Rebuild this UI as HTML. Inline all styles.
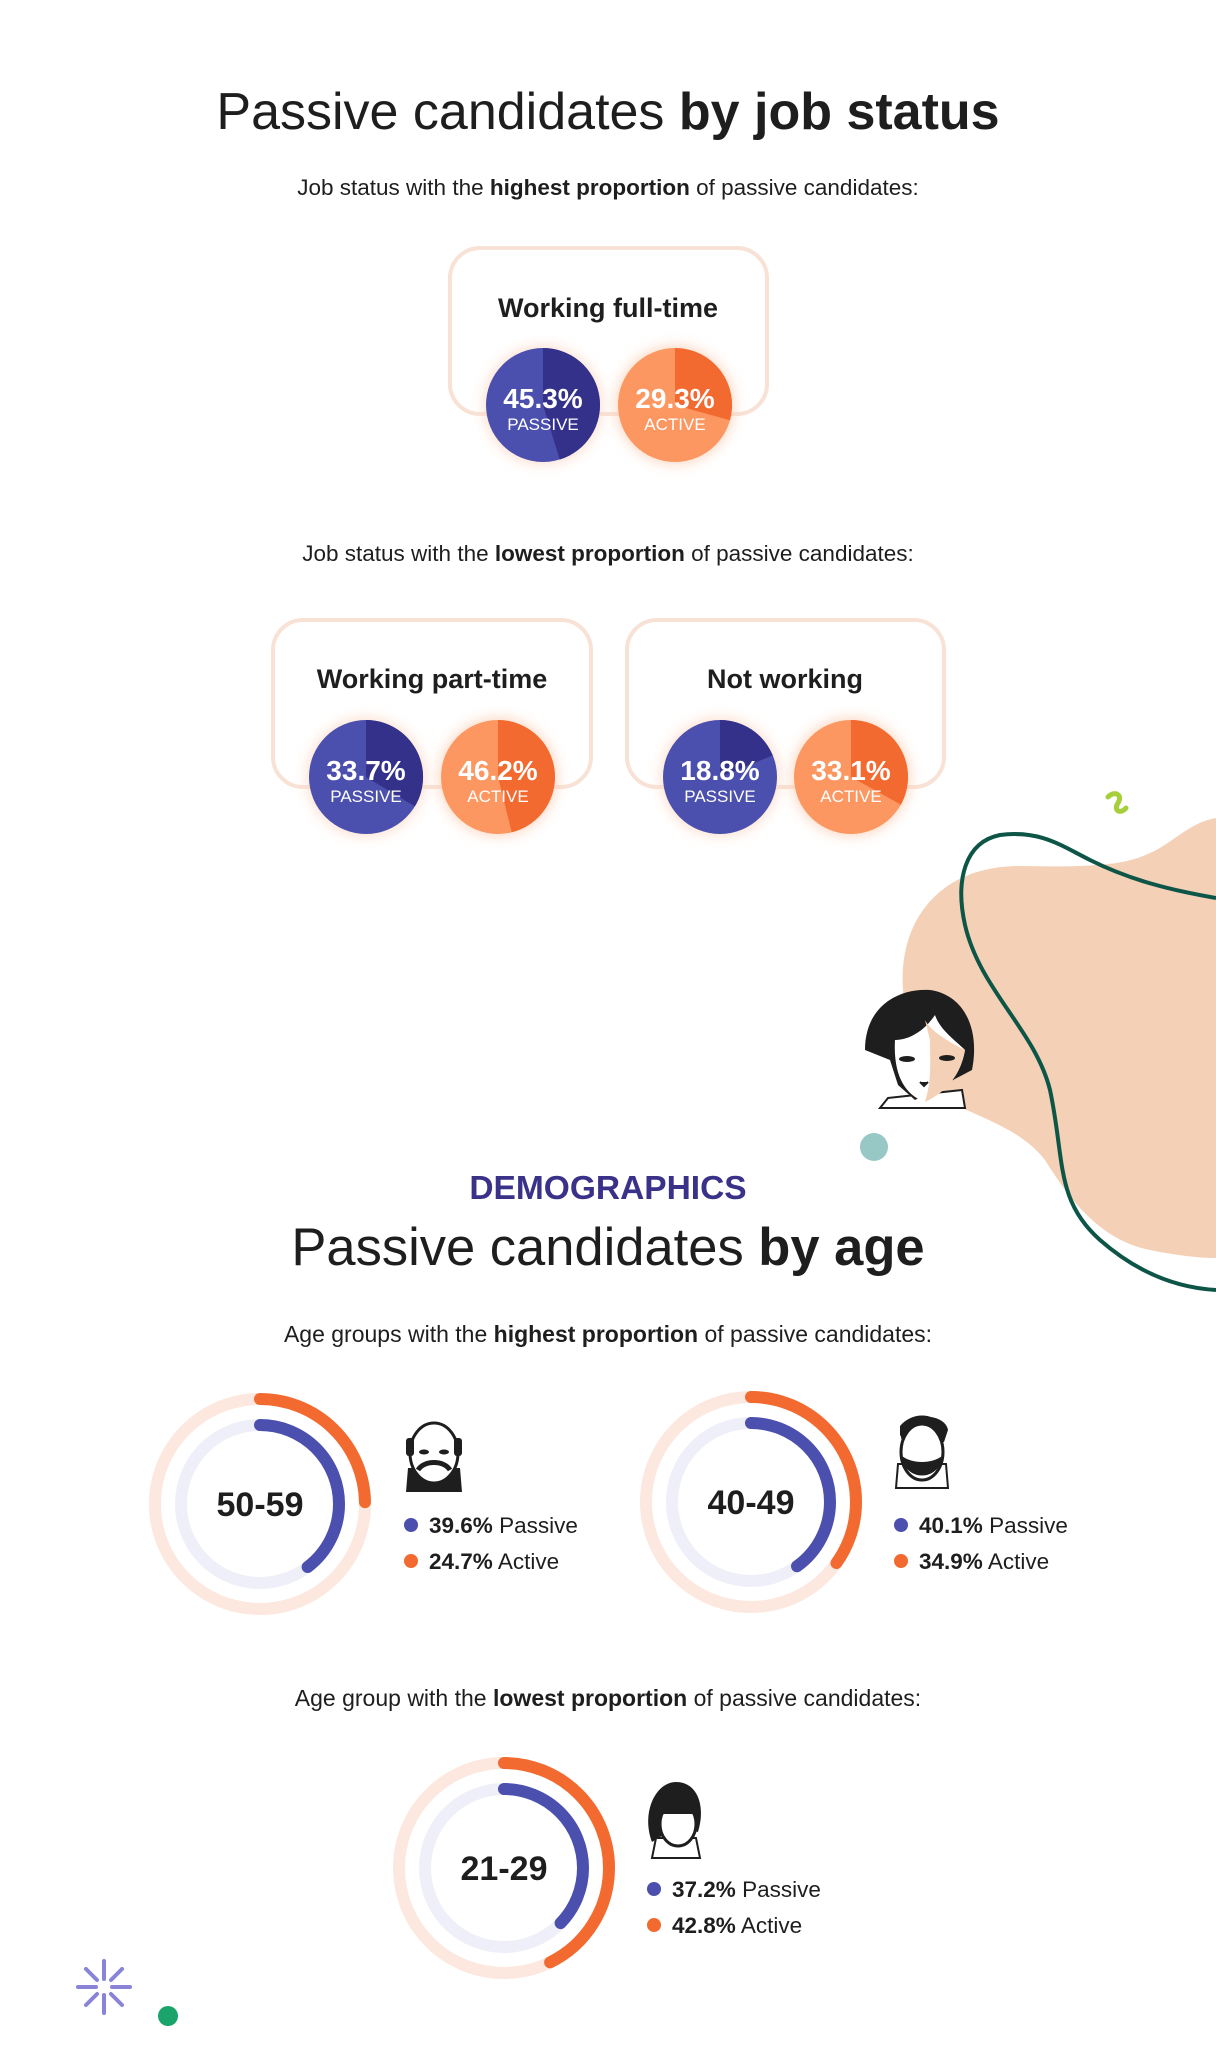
<!DOCTYPE html>
<html><head><meta charset="utf-8"><style>
html,body{margin:0;padding:0;background:#fff;}
svg{display:block;}
text{font-family:"Liberation Sans",sans-serif;}
</style></head><body>
<svg width="1216" height="2048" viewBox="0 0 1216 2048" xmlns="http://www.w3.org/2000/svg">
<defs>
<filter id="glow" x="-50%" y="-50%" width="200%" height="200%"><feGaussianBlur stdDeviation="7"/></filter>
</defs>
<rect width="1216" height="2048" fill="#fff"/>
<!-- blob -->
<path d="M1216,818 C1190,822 1170,845 1150,853 C1130,862 1110,868 1020,866 C940,866 898,920 903,990 C906,1060 930,1095 960,1107 C1000,1125 1025,1135 1045,1160 C1070,1200 1100,1240 1150,1250 C1180,1256 1200,1258 1216,1258 Z" fill="#f3d0b6"/>
<path d="M1216,898 C1170,890 1130,880 1090,860 C1060,845 1040,830 1000,835 C965,842 955,880 965,925 C980,990 1035,1030 1050,1090 C1065,1160 1055,1200 1100,1240 C1140,1275 1180,1288 1216,1290" fill="none" stroke="#0d5547" stroke-width="4"/>
<path d="M1108,797 C1115,790 1123,795 1118,803 C1113,810 1120,815 1126,808" fill="none" stroke="#a6cf3c" stroke-width="5" stroke-linecap="round"/>
<circle cx="874" cy="1147" r="14" fill="#97c8c6"/>
<!-- woman face -->
<g>
<path d="M888,1098 L880,1108 L965,1108 L962,1090 Z" fill="#fff" stroke="#1e1e1e" stroke-width="2"/>
<path d="M865,1050 C865,1005 900,988 930,990 C965,995 980,1030 972,1070 L915,1100 L898,1085 L890,1060 Z" fill="#1e1e1e"/>
<path d="M895,1040 C910,1040 925,1030 935,1015 C940,1030 955,1040 965,1050 C960,1080 940,1095 925,1102 C905,1095 893,1075 895,1040Z" fill="#fff"/>
<path d="M925,1020 C930,1030 945,1040 965,1050 C960,1080 940,1095 925,1102 C932,1080 930,1060 930,1040Z" fill="#f3d0b6"/>
<ellipse cx="907" cy="1059" rx="8" ry="3" fill="#1e1e1e"/><ellipse cx="947" cy="1058" rx="8" ry="3" fill="#1e1e1e"/>
<path d="M920,1082 l4,4 l4,-4" fill="#1e1e1e" stroke="#1e1e1e" stroke-width="2"/>
</g>
<!-- section 1 -->
<text x="608" y="129" text-anchor="middle" font-size="52" fill="#1e1e1e">Passive candidates <tspan font-weight="bold">by job status</tspan></text>
<text x="608" y="195" text-anchor="middle" font-size="22.5" fill="#1e1e1e">Job status with the <tspan font-weight="bold">highest proportion</tspan> of passive candidates:</text>
<rect x="450" y="248" width="317" height="166" rx="30" fill="none" stroke="#f8e2d5" stroke-width="4"/>
<text x="608" y="317" text-anchor="middle" font-size="27" font-weight="bold" fill="#1e1e1e">Working full-time</text>

<text x="608" y="561" text-anchor="middle" font-size="22.5" fill="#1e1e1e">Job status with the <tspan font-weight="bold">lowest proportion</tspan> of passive candidates:</text>
<rect x="273" y="620" width="318" height="167" rx="30" fill="none" stroke="#f8e2d5" stroke-width="4"/>
<rect x="627" y="620" width="317" height="167" rx="30" fill="none" stroke="#f8e2d5" stroke-width="4"/>
<text x="432" y="688" text-anchor="middle" font-size="27" font-weight="bold" fill="#1e1e1e">Working part-time</text>
<text x="785" y="688" text-anchor="middle" font-size="27" font-weight="bold" fill="#1e1e1e">Not working</text>

<!-- pies -->
<g transform="translate(543,405)">
<circle r="58" fill="#fbd9c7" filter="url(#glow)"/>
<circle r="57" fill="#4b4fae"/><path d="M0,0 L0,-57 A57,57 0 0 1 16.7,54.5 Z" fill="#33318a"/>
<text y="3" text-anchor="middle" font-size="28" font-weight="bold" fill="#fff">45.3%</text>
<text y="25" text-anchor="middle" font-size="17" fill="#fff">PASSIVE</text></g>
<g transform="translate(675,405)">
<circle r="58" fill="#fbd0b8" filter="url(#glow)"/>
<circle r="57" fill="#fc9762"/><path d="M0,0 L0,-57 A57,57 0 0 1 55,15.2 Z" fill="#f26a30"/>
<text y="3" text-anchor="middle" font-size="28" font-weight="bold" fill="#fff">29.3%</text>
<text y="25" text-anchor="middle" font-size="17" fill="#fff">ACTIVE</text></g>
<g transform="translate(366,777)">
<circle r="58" fill="#fbd9c7" filter="url(#glow)"/>
<circle r="57" fill="#4b4fae"/><path d="M0,0 L0,-57 A57,57 0 0 1 48.9,29.4 Z" fill="#33318a"/>
<text y="3" text-anchor="middle" font-size="28" font-weight="bold" fill="#fff">33.7%</text>
<text y="25" text-anchor="middle" font-size="17" fill="#fff">PASSIVE</text></g>
<g transform="translate(498,777)">
<circle r="58" fill="#fbd0b8" filter="url(#glow)"/>
<circle r="57" fill="#fc9762"/><path d="M0,0 L0,-57 A57,57 0 0 1 13.8,55.3 Z" fill="#f26a30"/>
<text y="3" text-anchor="middle" font-size="28" font-weight="bold" fill="#fff">46.2%</text>
<text y="25" text-anchor="middle" font-size="17" fill="#fff">ACTIVE</text></g>
<g transform="translate(720,777)">
<circle r="58" fill="#fbd9c7" filter="url(#glow)"/>
<circle r="57" fill="#4b4fae"/><path d="M0,0 L0,-57 A57,57 0 0 1 52.7,-21.6 Z" fill="#33318a"/>
<text y="3" text-anchor="middle" font-size="28" font-weight="bold" fill="#fff">18.8%</text>
<text y="25" text-anchor="middle" font-size="17" fill="#fff">PASSIVE</text></g>
<g transform="translate(851,777)">
<circle r="58" fill="#fbd0b8" filter="url(#glow)"/>
<circle r="57" fill="#fc9762"/><path d="M0,0 L0,-57 A57,57 0 0 1 49.9,27.6 Z" fill="#f26a30"/>
<text y="3" text-anchor="middle" font-size="28" font-weight="bold" fill="#fff">33.1%</text>
<text y="25" text-anchor="middle" font-size="17" fill="#fff">ACTIVE</text></g>

<!-- section 2 -->
<text x="608" y="1199" text-anchor="middle" font-size="33.5" font-weight="bold" fill="#3a3188">DEMOGRAPHICS</text>
<text x="608" y="1265" text-anchor="middle" font-size="52.5" fill="#1e1e1e">Passive candidates <tspan font-weight="bold">by age</tspan></text>
<text x="608" y="1342" text-anchor="middle" font-size="23" fill="#1e1e1e">Age groups with the <tspan font-weight="bold">highest proportion</tspan> of passive candidates:</text>
<text x="608" y="1706" text-anchor="middle" font-size="23" fill="#1e1e1e">Age group with the <tspan font-weight="bold">lowest proportion</tspan> of passive candidates:</text>

<!-- rings -->
<g transform="translate(260,1504)">
<circle r="105" fill="none" stroke="#fde8df" stroke-width="12"/>
<circle r="79" fill="none" stroke="#efeff9" stroke-width="12"/>
<circle r="105" fill="none" stroke="#f26a30" stroke-width="12" stroke-linecap="round" stroke-dasharray="163 700" transform="rotate(-90)"/>
<circle r="79" fill="none" stroke="#4b4fae" stroke-width="12" stroke-linecap="round" stroke-dasharray="197 600" transform="rotate(-90)"/>
<text y="12" text-anchor="middle" font-size="34" font-weight="bold" fill="#1e1e1e">50-59</text></g>
<g transform="translate(751,1502)">
<circle r="105" fill="none" stroke="#fde8df" stroke-width="12"/>
<circle r="79" fill="none" stroke="#efeff9" stroke-width="12"/>
<circle r="105" fill="none" stroke="#f26a30" stroke-width="12" stroke-linecap="round" stroke-dasharray="230 700" transform="rotate(-90)"/>
<circle r="79" fill="none" stroke="#4b4fae" stroke-width="12" stroke-linecap="round" stroke-dasharray="199 600" transform="rotate(-90)"/>
<text y="12" text-anchor="middle" font-size="34" font-weight="bold" fill="#1e1e1e">40-49</text></g>
<g transform="translate(504,1868)">
<circle r="105" fill="none" stroke="#fde8df" stroke-width="12"/>
<circle r="79" fill="none" stroke="#efeff9" stroke-width="12"/>
<circle r="105" fill="none" stroke="#f26a30" stroke-width="12" stroke-linecap="round" stroke-dasharray="282 700" transform="rotate(-90)"/>
<circle r="79" fill="none" stroke="#4b4fae" stroke-width="12" stroke-linecap="round" stroke-dasharray="185 600" transform="rotate(-90)"/>
<text y="12" text-anchor="middle" font-size="34" font-weight="bold" fill="#1e1e1e">21-29</text></g>

<!-- legends -->
<g font-size="22.5" fill="#1e1e1e">
<circle cx="411" cy="1525" r="7" fill="#4b4fae"/><text x="429" y="1533"><tspan font-weight="bold">39.6%</tspan> Passive</text>
<circle cx="411" cy="1561" r="7" fill="#f26a30"/><text x="429" y="1569"><tspan font-weight="bold">24.7%</tspan> Active</text>
<circle cx="901" cy="1525" r="7" fill="#4b4fae"/><text x="919" y="1533"><tspan font-weight="bold">40.1%</tspan> Passive</text>
<circle cx="901" cy="1561" r="7" fill="#f26a30"/><text x="919" y="1569"><tspan font-weight="bold">34.9%</tspan> Active</text>
<circle cx="654" cy="1889" r="7" fill="#4b4fae"/><text x="672" y="1897"><tspan font-weight="bold">37.2%</tspan> Passive</text>
<circle cx="654" cy="1925" r="7" fill="#f26a30"/><text x="672" y="1933"><tspan font-weight="bold">42.8%</tspan> Active</text>
</g>

<!-- small faces -->
<g transform="translate(434,1458)">
<path d="M-28,34 L-26,10 L26,10 L28,34 Z" fill="#1e1e1e"/>
<ellipse cx="0" cy="-5" rx="24" ry="30" fill="#fff" stroke="#1e1e1e" stroke-width="3"/>
<rect x="-28" y="-20" width="8" height="18" rx="3" fill="#1e1e1e"/><rect x="20" y="-20" width="8" height="18" rx="3" fill="#1e1e1e"/>
<path d="M-16,12 C-10,2 10,2 16,12" fill="none" stroke="#1e1e1e" stroke-width="5"/>
<ellipse cx="-10" cy="-6" rx="5" ry="2.5" fill="#1e1e1e"/><ellipse cx="10" cy="-6" rx="5" ry="2.5" fill="#1e1e1e"/></g>
<g transform="translate(922,1452)">
<path d="M-26,36 L-24,12 L24,12 L26,36 Z" fill="#fff" stroke="#1e1e1e" stroke-width="2"/>
<path d="M-22,-20 C-22,-38 22,-42 26,-22 L22,-10 L-20,-10 Z" fill="#1e1e1e"/>
<ellipse cx="0" cy="0" rx="21" ry="28" fill="#fff" stroke="#1e1e1e" stroke-width="3"/>
<path d="M-20,4 C-18,30 18,30 20,4 C10,12 -10,12 -20,4Z" fill="#1e1e1e"/>
<path d="M-22,-16 C-10,-30 10,-30 22,-16 L22,-26 C10,-40 -10,-40 -22,-26Z" fill="#1e1e1e"/></g>
<g transform="translate(676,1822)">
<path d="M-24,36 L-20,16 L20,16 L24,36 Z" fill="#fff" stroke="#1e1e1e" stroke-width="2"/>
<path d="M-24,20 C-35,-10 -20,-40 0,-40 C22,-40 30,-15 22,10 L0,5 Z" fill="#1e1e1e"/>
<ellipse cx="2" cy="2" rx="18" ry="22" fill="#fff" stroke="#1e1e1e" stroke-width="3"/>
<path d="M-16,-8 L20,-8 L20,-22 L-16,-22Z" fill="#1e1e1e"/></g>

<!-- decor -->
<g transform="translate(104,1987)" stroke="#8984d8" stroke-width="4" stroke-linecap="round">
<line x1="0" y1="-26" x2="0" y2="-8"/><line x1="0" y1="8" x2="0" y2="26"/>
<line x1="-26" y1="0" x2="-8" y2="0"/><line x1="8" y1="0" x2="26" y2="0"/>
<line x1="-18" y1="-18" x2="-7" y2="-7"/><line x1="7" y1="7" x2="18" y2="18"/>
<line x1="18" y1="-18" x2="7" y2="-7"/><line x1="-7" y1="7" x2="-18" y2="18"/></g>
<circle cx="168" cy="2016" r="10" fill="#1aa36a"/>
</svg>
</body></html>
